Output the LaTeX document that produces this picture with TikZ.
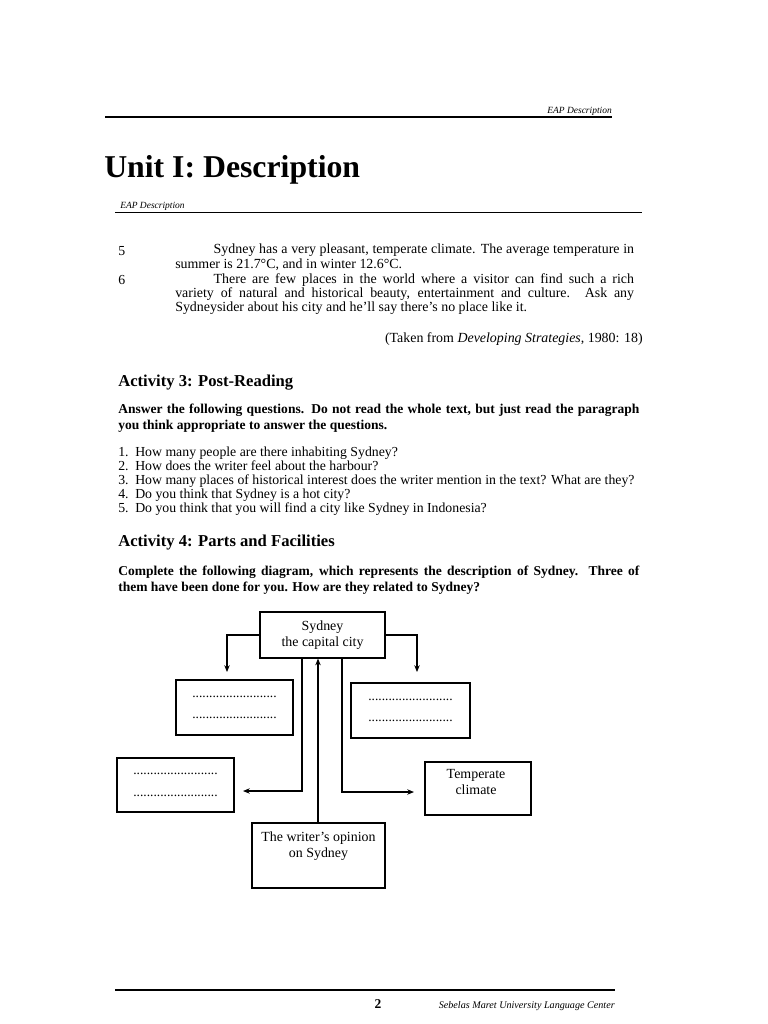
\documentclass[tikz,border=0pt]{standalone}
\usepackage{fontspec}
\setmainfont{Liberation Serif}
\usetikzlibrary{arrows.meta, positioning}

\begin{document}
\begin{tikzpicture}[x=0.026cm, y=-0.026cm,
    box/.style={draw, thick, inner sep=0pt},
    body/.style={anchor=base west, inner sep=0pt, font=\fontsize{10.2}{11.5}\selectfont},
    para/.style={anchor=north west, inner sep=0pt, text width=11.93cm, align=justify, font=\fontsize{10.3}{10.6}\selectfont},
    head/.style={anchor=base west, inner sep=0pt, font=\fontsize{12.3}{14}\selectfont\bfseries},
    instr/.style={anchor=north west, inner sep=0pt, text width=13.55cm, align=justify, font=\fontsize{10}{11.3}\selectfont\bfseries},
    dots/.style={font=\fontsize{10}{10}\selectfont, align=center},
    lbl/.style={align=center, font=\fontsize{10.3}{12}\selectfont},
    arrow/.style={-{Stealth[length=5pt, width=4pt]}, thick}
  ]
  \useasboundingbox (0,0) rectangle (768,1024);

  % Header
  \draw[thick] (105,117) -- (612,117);
  \node[anchor=base east, inner sep=0pt, font=\fontsize{7}{8}\selectfont\itshape] (runhead) at (612,113) {EAP Description};
  \node[anchor=base west, inner sep=0pt, font=\fontsize{23.5}{26}\selectfont\bfseries] (title) at (104,177) {Unit I: Description};
  \node[anchor=base west, inner sep=0pt, font=\fontsize{7}{8}\selectfont\itshape] (subhead) at (120,208) {EAP Description};
  \draw (115,212) -- (642,212);

  % Text
  \node[body] (n5) at (118,255) {5};
  \node[para] (p5) at (175,244) {\hspace*{1.0cm}Sydney has a very pleasant, temperate climate. The average temperature in summer is 21.7°C, and in winter 12.6°C.};
  \node[body] (n6) at (118,284) {6};
  \node[para] (p6) at (175,273) {\hspace*{1.0cm}There are few places in the world where a visitor can find such a rich\linebreak variety of natural and historical beauty, entertainment and culture. Ask any\linebreak Sydneysider about his city and he'll say there's no place like it.};
  \node[anchor=base east, inner sep=0pt, font=\fontsize{10.3}{11}\selectfont] (src) at (643,342) {(Taken from \textit{Developing Strategies}, 1980: 18)};

  % Activity 3
  \node[head] (act3) at (118,386) {Activity 3: Post-Reading};
  \node[instr] (instr3) at (118,404) {Answer the following questions. Do not read the whole text, but just read the paragraph\linebreak you think appropriate to answer the questions.};
  \foreach \n/\q [count=\i] in {1/How many people are there inhabiting Sydney?,
      2/How does the writer feel about the harbour?,
      3/How many places of historical interest does the writer mention in the text? What are they?,
      4/Do you think that Sydney is a hot city?,
      5/Do you think that you will find a city like Sydney in Indonesia?} {
    \node[body] (q\n) at (118,442+14*\i) {\n.};
    \node[body] (qt\n) at (135,442+14*\i) {\q};
  }

  % Activity 4
  \node[head] (act4) at (118,546) {Activity 4: Parts and Facilities};
  \node[instr] (instr4) at (118,566) {Complete the following diagram, which represents the description of Sydney. Three of\linebreak them have been done for you. How are they related to Sydney?};

  % Diagram
  \node[box, minimum width=125*0.026cm, minimum height=46*0.026cm, lbl] (sydney) at (322.5,635) {Sydney\\the capital city};
  \node[box, minimum width=117*0.026cm, minimum height=55*0.026cm, dots] (lu) at (234.5,707.5) {.........................\\[6pt].........................};
  \node[box, minimum width=119*0.026cm, minimum height=55*0.026cm, dots] (ru) at (410.5,710.5) {.........................\\[6pt].........................};
  \node[box, minimum width=117*0.026cm, minimum height=54*0.026cm, dots] (ll) at (175.5,785) {.........................\\[6pt].........................};
  \node[box, minimum width=106*0.026cm, minimum height=53*0.026cm] (temp) at (478,788.5) {};
  \node[lbl] (templbl) at (476,782) {Temperate\\climate};
  \node[box, minimum width=133*0.026cm, minimum height=65*0.026cm] (opinion) at (318.5,855.5) {};
  \node[lbl] (opinionlbl) at (318.5,846) {The writer's opinion\\on Sydney};

  \coordinate (cl) at (227,635);
  \coordinate (cr) at (417,635);
  \coordinate (tl) at (302,791);
  \coordinate (tr) at (342,792);
  \draw[arrow] (sydney.west) -- (cl) -- (227,672);
  \draw[arrow] (sydney.east) -- (cr) -- (417,672);
  \draw[arrow] (sydney.south -| tl) -- (tl) -- (243,791);
  \draw[arrow] (sydney.south -| tr) -- (tr) -- (414,792);
  \draw[arrow] (opinion.north -| 318,0) -- (sydney.south -| 318,0);

  % Footer
  \draw[thick] (115,990) -- (615,990);
  \node[anchor=base, inner sep=0pt, font=\fontsize{10}{11}\selectfont\bfseries] (page) at (378,1008) {2};
  \node[anchor=base east, inner sep=0pt, font=\fontsize{7.5}{8}\selectfont\itshape] (foot) at (615,1008) {Sebelas Maret University Language Center};
\end{tikzpicture}
\end{document}
